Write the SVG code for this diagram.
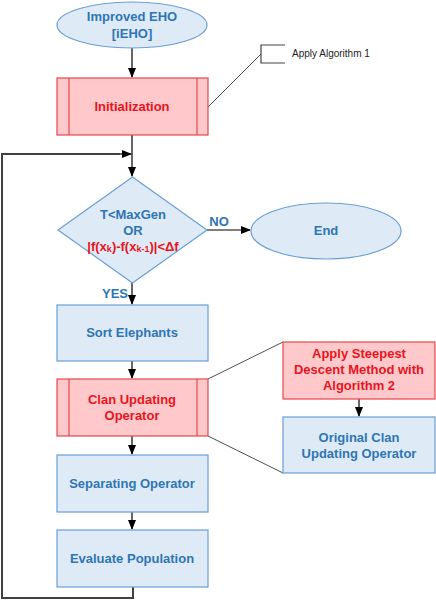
<svg xmlns="http://www.w3.org/2000/svg" width="436" height="600" viewBox="0 0 436 600">
<style>
.bl{fill:#deebf7;stroke:#6a9fd4;stroke-width:1.2}
.rd{fill:#ffc9cc;stroke:#e8474a;stroke-width:1.2}
.tb{font-family:"Liberation Sans",Arial,sans-serif;font-size:13px;font-weight:bold;fill:#2e75b6;text-anchor:middle}
.tr{font-family:"Liberation Sans",Arial,sans-serif;font-size:13px;font-weight:bold;fill:#e8141c;text-anchor:middle}
.c{fill:none;stroke:#000;stroke-width:1.2}
.t{fill:none;stroke:#222;stroke-width:0.8}
</style>
<defs>
<marker id="ah" markerWidth="10" markerHeight="8" refX="9" refY="4" orient="auto" markerUnits="userSpaceOnUse">
<path d="M0,0 L10,4 L0,8 Z" fill="#000"/>
</marker>
</defs>
<rect width="436" height="600" fill="#fff"/>
<g id="connectors">
<line class="c" x1="132" y1="48" x2="132" y2="77" marker-end="url(#ah)"/>
<line class="c" x1="132" y1="135" x2="132" y2="176" marker-end="url(#ah)"/>
<polyline points="133,587 133,598 2,598 2,154 120,154" fill="none" stroke="#404040" stroke-width="2"/>
<line class="c" x1="120" y1="154" x2="131" y2="154" marker-end="url(#ah)"/>
<line class="c" x1="207" y1="230" x2="250" y2="230" marker-end="url(#ah)"/>
<line class="c" x1="132" y1="283" x2="132" y2="304" marker-end="url(#ah)"/>
<line class="c" x1="132" y1="361" x2="132" y2="378" marker-end="url(#ah)"/>
<line class="c" x1="132" y1="436" x2="132" y2="454" marker-end="url(#ah)"/>
<line class="c" x1="132" y1="512" x2="132" y2="529" marker-end="url(#ah)"/>
<line class="c" x1="359" y1="399" x2="359" y2="416" marker-end="url(#ah)"/>
<line class="t" x1="208" y1="107" x2="261" y2="54"/>
<line class="t" x1="208" y1="379" x2="283" y2="342"/>
<line class="t" x1="208" y1="436" x2="283" y2="473"/>
</g>
<g id="start">
<ellipse class="bl" cx="132" cy="25" rx="75" ry="23"/>
<text class="tb" x="132" y="21">Improved EHO</text>
<text class="tb" x="132" y="38">[iEHO]</text>
</g>
<g id="note1">
<polyline points="285,45 261,45 261,63 285,63" fill="none" stroke="#444" stroke-width="1.2"/>
<text x="292" y="57" font-family="'Liberation Sans',Arial,sans-serif" font-size="10" fill="#222">Apply Algorithm 1</text>
</g>
<g id="init">
<rect class="rd" x="57" y="78" width="151" height="57"/>
<line class="rd" x1="69" y1="78" x2="69" y2="135"/>
<line class="rd" x1="197" y1="78" x2="197" y2="135"/>
<text class="tr" x="132" y="111">Initialization</text>
</g>
<g id="decision">
<polygon class="bl" points="132.5,177 207,230 132.5,283 58,230"/>
<text class="tb" x="133" y="219">T&lt;MaxGen</text>
<text class="tb" x="133" y="235">OR</text>
<text class="tr" x="133" y="251">|f(x<tspan font-size="9" dy="1">k</tspan><tspan dy="-1">)-f(x</tspan><tspan font-size="9" dy="1">k-1</tspan><tspan dy="-1">)|&lt;Δf</tspan></text>
<text class="tb" x="219" y="226">NO</text>
<text class="tb" x="115" y="298">YES</text>
</g>
<g id="end">
<ellipse class="bl" cx="326" cy="231" rx="75" ry="28"/>
<text class="tb" x="326" y="235">End</text>
</g>
<g id="sort">
<rect class="bl" x="57" y="305" width="151" height="56"/>
<text class="tb" x="132" y="337">Sort Elephants</text>
</g>
<g id="clan">
<rect class="rd" x="57" y="379" width="151" height="57"/>
<line class="rd" x1="69" y1="379" x2="69" y2="436"/>
<line class="rd" x1="197" y1="379" x2="197" y2="436"/>
<text class="tr" x="132" y="404">Clan Updating</text>
<text class="tr" x="132" y="420">Operator</text>
</g>
<g id="steepest">
<rect class="rd" x="283" y="342" width="152" height="57"/>
<text class="tr" x="359" y="358">Apply Steepest</text>
<text class="tr" x="359" y="374">Descent Method with</text>
<text class="tr" x="359" y="390">Algorithm 2</text>
</g>
<g id="original">
<rect class="bl" x="283" y="417" width="152" height="56"/>
<text class="tb" x="359" y="442">Original Clan</text>
<text class="tb" x="359" y="458">Updating Operator</text>
</g>
<g id="separating">
<rect class="bl" x="57" y="455" width="151" height="57"/>
<text class="tb" x="132" y="488">Separating Operator</text>
</g>
<g id="evaluate">
<rect class="bl" x="57" y="530" width="151" height="57"/>
<text class="tb" x="132" y="563">Evaluate Population</text>
</g>
</svg>
